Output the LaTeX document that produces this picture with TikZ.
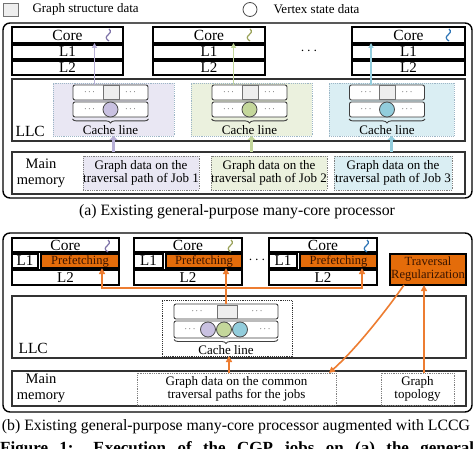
\documentclass[tikz,border=0pt]{standalone}
\usepackage{fontspec}
\setmainfont{Liberation Serif}
\usetikzlibrary{arrows.meta,decorations.pathreplacing,calc}
\definecolor{jAa}{HTML}{B7AFD6}
\definecolor{jAbg}{HTML}{E9E7F3}
\definecolor{jAc}{HTML}{C9C1E1}
\definecolor{jAs}{HTML}{7E73A8}
\definecolor{jBa}{HTML}{C3D69B}
\definecolor{jBbg}{HTML}{EBF1DE}
\definecolor{jBc}{HTML}{C4D79B}
\definecolor{jBs}{HTML}{9AA25A}
\definecolor{jCa}{HTML}{93CDDD}
\definecolor{jCbg}{HTML}{DAEEF3}
\definecolor{jCc}{HTML}{92CDDC}
\definecolor{jCs}{HTML}{2E75B6}
\definecolor{orgfill}{HTML}{E46C0A}
\definecolor{orgline}{HTML}{ED7D31}
\definecolor{orgtext}{HTML}{3A1400}
\definecolor{sqfill}{HTML}{EEEEEE}
\definecolor{regdash}{HTML}{9DB6C6}
\newcommand{\bx}[7][]{\node[#1, minimum width={(#5)-(#3)}, minimum height={(#6)-(#4)}, inner sep=0pt, outer sep=0pt, align=center] (#2) at ({((#3)+(#5))/2},{((#4)+(#6))/2}) {#7};}
\newcommand{\sqg}[3]{\draw[#3, line width=1.2pt] (#1+1,#2) .. controls (#1+3.5,#2+2) and (#1+2.5,#2+4.5) .. (#1,#2+6) .. controls (#1-2.5,#2+7.5) and (#1-2.5,#2+10) .. (#1+1,#2+12);}
\begin{document}
\begin{tikzpicture}[x=1pt,y=-1pt,
  cb/.style={draw, line width=1.1pt, font=\fontsize{15}{15}\selectfont},
  corebox/.style={draw, line width=1.1pt, font=\fontsize{15.5}{15.5}\selectfont},
  outer/.style={draw, line width=1.4pt, rounded corners=7pt},
  lvl/.style={draw=black!80, line width=1.2pt},
  reg/.style={draw=regdash, densely dotted, line width=0.9pt},
  regb/.style={draw=black!80, densely dotted, line width=0.9pt},
  row/.style={draw=black!75, line width=0.9pt, rounded corners=2pt, fill=white, inner sep=0pt},
  gsq/.style={draw=black!55, line width=0.8pt, fill=sqfill, inner sep=0pt},
  vc/.style={circle, draw=black!70, line width=0.8pt, minimum size=15pt, inner sep=0pt},
  dt/.style={font=\fontsize{9}{9}\selectfont, inner sep=0pt},
  t13/.style={font=\fontsize{13}{14}\selectfont},
  f14/.style={font=\fontsize{14.5}{16}\selectfont},
  llcf/.style={font=\fontsize{15.5}{16}\selectfont},
  captxt/.style={font=\fontsize{15.8}{16}\selectfont},
  jd/.style={densely dotted, draw=black!50, line width=0.8pt, font=\fontsize{13}{13.5}\selectfont},
  pf/.style={draw, line width=1.1pt, fill=orgfill, text=orgtext, font=\fontsize{12.5}{13}\selectfont},
  brc/.style={decorate, decoration={brace, amplitude=4pt, mirror}, draw=black!75, line width=0.9pt},
  uparr/.style={line width=1.6pt, -{Triangle[width=5pt,length=5pt]}},
  thkarr/.style={line width=3pt, -{Triangle[width=8pt,length=4pt]}},
  oarr/.style={draw=orgline, line width=1.6pt, -{Triangle[width=6pt,length=6pt]}}
]
\useasboundingbox (0,0) rectangle (474,449);
\fill[white] (0,0) rectangle (474,449);
% legend
\bx[gsq]{lg1}{3}{3}{18}{16}{}
\node[t13, anchor=west] (lgt1) at (29,9.5) {Graph structure data};
\node[vc, minimum size=14pt, fill=white] (lg2) at (250,9.5) {};
\node[t13, anchor=west] (lgt2) at (270,9.5) {Vertex state data};
% ---------------- (a)
\bx[outer]{pa}{3}{23}{472}{198}{}
\foreach \nm/\l/\r in {1/12/123, 2/153/265, 3/352/465}{
  \bx[corebox]{ca\nm}{\l}{27}{\r}{43}{Core}
  \bx[cb]{la\nm}{\l}{45}{\r}{59}{L1}
  \bx[cb]{lb\nm}{\l}{61}{\r}{75}{L2}
}
\sqg{108}{29}{jAs}
\sqg{249}{29}{jBs}
\sqg{448}{29}{jCs}
\node[f14] (dotsa) at (309,51) {$\cdots$};
\bx[lvl]{llca}{12}{79}{465}{141}{}
\node[llcf, anchor=west] (llcta) at (12,131) {LLC};
\bx[reg, fill=jAbg]{rg1}{53}{83}{174}{136}{}
\bx[reg, fill=jBbg]{rg2}{191}{83}{312}{136}{}
\bx[reg, fill=jCbg]{rg3}{329}{83}{454}{136}{}
\foreach \cx/\col/\nm in {110.5/A/1, 249.5/B/2, 387/C/3}{
  \node[row, minimum width=75pt, minimum height=15pt] (ra\nm) at (\cx,92.5) {};
  \node[row, minimum width=75pt, minimum height=15pt] (rb\nm) at (\cx,109.5) {};
  \node[gsq, minimum width=16pt, minimum height=14pt] (sq\nm) at (\cx+0.5,92.5) {};
  \node[dt] (d1\nm) at (\cx-21,92.5) {$\cdots$};
  \node[dt] (d2\nm) at (\cx+20,92.5) {$\cdots$};
  \node[dt] (d3\nm) at (\cx-21,109.5) {$\cdots$};
  \node[dt] (d4\nm) at (\cx+20,109.5) {$\cdots$};
  \node[vc, fill=j\col c] (vc\nm) at (\cx,109.5) {};
  \draw[brc] ([yshift=-1.5pt]rb\nm.south west) -- ([yshift=-1.5pt]rb\nm.south east);
  \node[t13] (cl\nm) at (\cx,130) {Cache line};
  \draw[uparr, draw=j\col a] ([xshift=-16pt]ra\nm.north) -- ([xshift=-16pt]ra\nm.north |- ca\nm.south);
}
\bx[lvl]{mema}{12}{152}{465}{194}{}
\node[f14, align=center] (mmta) at (41,173) {Main\\memory};
\bx[jd, fill=jAbg]{jd1}{83}{156}{199}{190}{Graph data on the\\traversal path of Job 1}
\bx[jd, fill=jBbg]{jd2}{211}{156}{327}{190}{Graph data on the\\traversal path of Job 2}
\bx[jd, fill=jCbg]{jd3}{334}{156}{452}{190}{Graph data on the\\traversal path of Job 3}
\draw[thkarr, draw=jAa] (rg1.south |- mema.north) -- (rg1.south);
\draw[thkarr, draw=jBa] (rg2.south |- mema.north) -- (rg2.south);
\draw[thkarr, draw=jCa] (rg3.south |- mema.north) -- (rg3.south);
\node[captxt] (capa) at (237,212) {(a) Existing general-purpose many-core processor};
% ---------------- (b)
\bx[outer]{pb}{3}{233}{472}{412}{}
\foreach \nm/\l/\r/\m in {1/12/119/38, 2/134/242/163, 3/269/377/297}{
  \bx[corebox]{cb\nm}{\l}{238}{\r}{252}{Core}
  \bx[cb]{l1b\nm}{\l}{254}{\m}{268}{L1}
  \bx[pf]{pf\nm}{\m+3}{254}{\r}{268}{Prefetching}
  \bx[cb]{l2b\nm}{\l}{270}{\r}{285}{L2}
}
\sqg{107}{240}{jAs}
\sqg{230}{240}{jBs}
\sqg{366}{240}{jCs}
\node[f14] (dotsb) at (257,260) {$\cdots$};
\bx[pf]{tr}{390}{254}{466}{285}{Traversal\\Regularization}
\bx[lvl]{llcb}{12}{296}{466}{358}{}
\node[llcf, anchor=west] (llctb) at (15,348) {LLC};
\bx[regb]{rgb}{162}{300}{292}{356}{}
\bx[row]{rb1}{174}{304}{278}{319}{}
\bx[row]{rb2}{174}{321}{278}{338}{}
\bx[gsq]{sqb}{217}{305}{237}{318}{}
\node[dt] (e1) at (197,311.5) {$\cdots$};
\node[dt] (e2) at (257,311.5) {$\cdots$};
\node[dt] (e3) at (190,329.5) {$\cdots$};
\node[dt] (e4) at (265,329.5) {$\cdots$};
\node[vc, fill=jAc] (vb1) at (208,329.5) {};
\node[vc, fill=jBc] (vb2) at (224,329.5) {};
\node[vc, fill=jCc] (vb3) at (240,329.5) {};
\draw[brc] ([yshift=-1.5pt]rb2.south west) -- ([yshift=-1.5pt]rb2.south east);
\node[t13] (clb) at (226,350) {Cache line};
\bx[lvl]{memb}{12}{371}{466}{406}{}
\node[f14, align=center] (mmtb) at (41,388) {Main\\memory};
\bx[jd]{cm}{137}{373}{336}{405}{Graph data on the common\\traversal paths for the jobs}
\bx[jd]{gt}{381}{373}{454}{405}{Graph\\topology}
% orange connections
\coordinate (jn) at (226,288);
\draw[oarr] ([xshift=-16pt]pf2.south east |- rb1.north) -- ([xshift=-16pt]pf2.south east);
\draw[oarr] (jn) -| ([xshift=-17pt]pf1.south east);
\draw[oarr] (jn) -| ([xshift=-15pt]pf3.south east);
\draw[oarr] ([xshift=2pt]rgb.south |- cm.north) -- ([xshift=2pt]rgb.south);
\draw[oarr] ([xshift=14pt]tr.south west) .. controls +(-16,23) and +(28,-25) .. ([xshift=-7pt]cm.north east);
\draw[oarr] ([xshift=6.5pt]gt.north) -- ([xshift=6.5pt]gt.north |- tr.south);
\node[captxt] (capb) at (236,427) {(b) Existing general-purpose many-core processor augmented with LCCG};
\node[font=\fontsize{17}{17}\selectfont\bfseries, anchor=base west, inner sep=0pt] (figcap) at (0,453) {\makebox[474pt][s]{Figure 1: Execution of the CGP jobs on (a) the general}};
\end{tikzpicture}
\end{document}
